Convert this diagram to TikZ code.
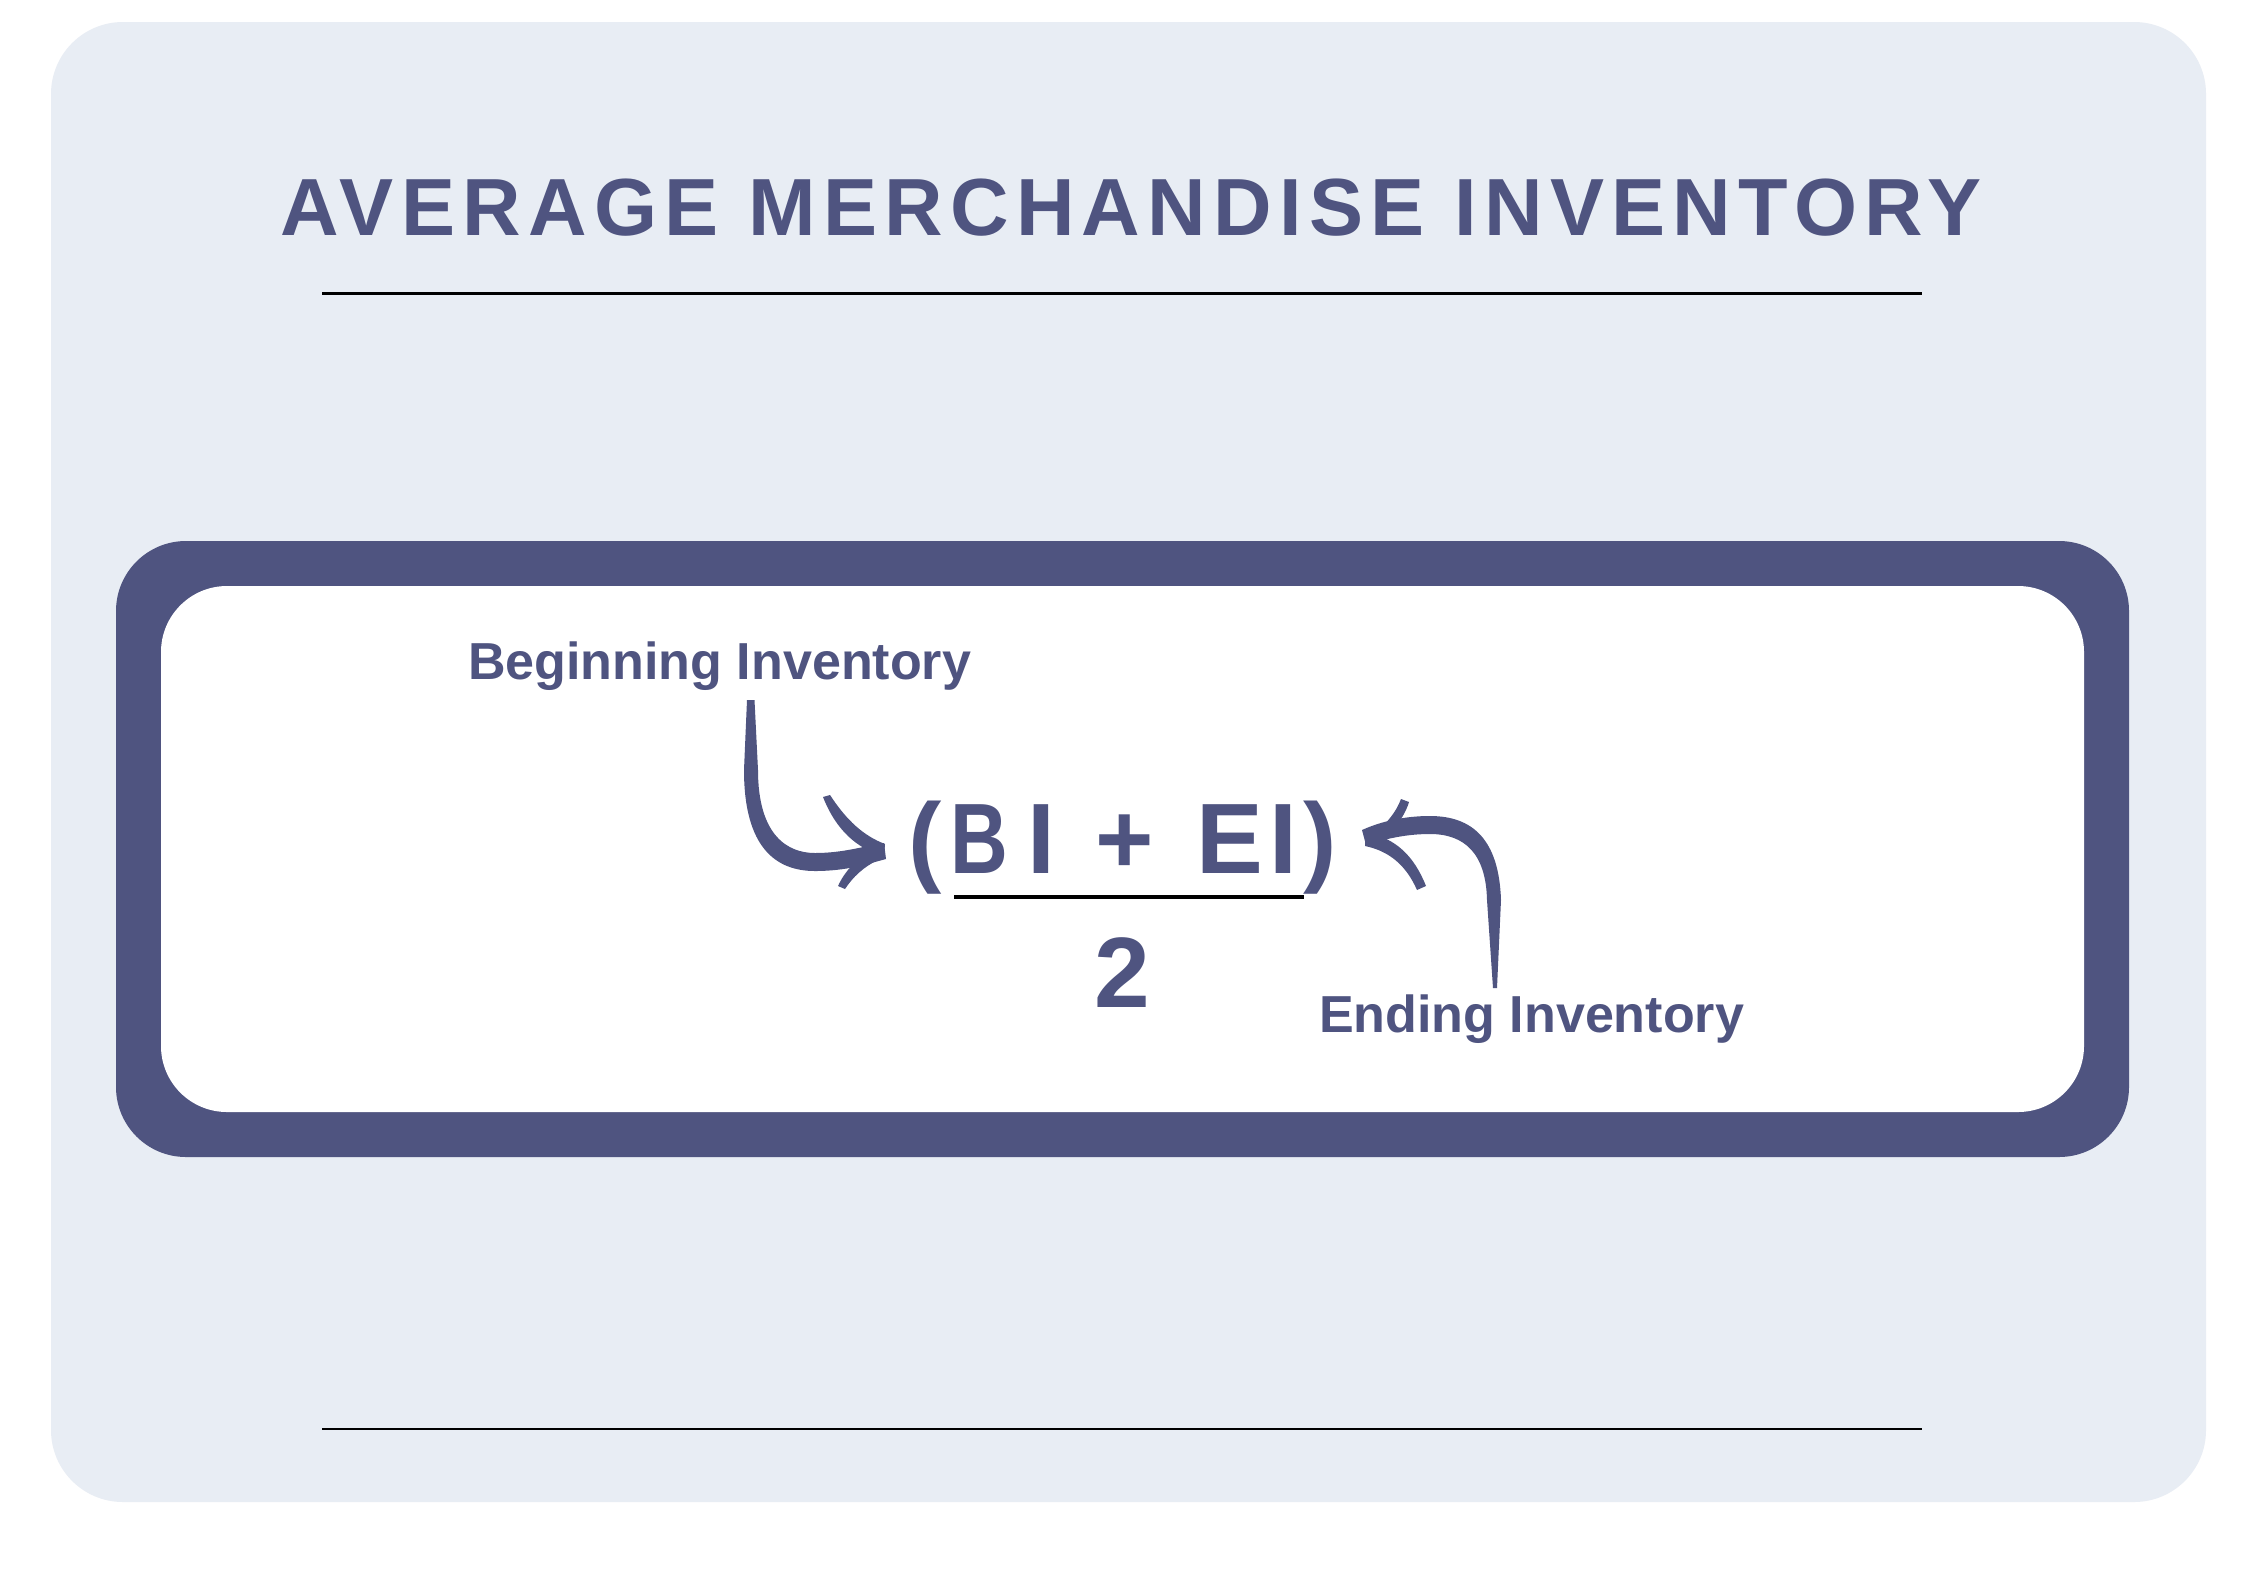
\documentclass[tikz,border=0pt]{standalone}
\usepackage{fontspec}
\setmainfont{Liberation Sans}
\definecolor{inkc}{HTML}{4F5480}
\definecolor{paperc}{HTML}{E8EDF4}
\newdimen\px \px=0.01cm
\tikzset{
  headline/.style={inner sep=0, outer sep=0, text=inkc,
    font={\fontsize{23.05pt}{27pt}\selectfont\bfseries\addfontfeatures{LetterSpace=9.0}}},
  formtext/.style={inner sep=0, outer sep=0, text=inkc,
    font={\fontsize{28.45pt}{32pt}\selectfont\bfseries}},
  subtext/.style={inner sep=0, outer sep=0, text=inkc,
    font={\fontsize{14.8pt}{17pt}\selectfont\bfseries}},
  rulestyle/.style={black, line width=2.8\px},
  fracline/.style={black, line width=3.3\px},
  brush/.style={fill=inkc, draw=none},
}
\begin{document}
\begin{tikzpicture}[x=0.01cm, y=-0.01cm]
\useasboundingbox (0,0) rectangle (2245,1587);
\fill[white] (0,0) rectangle (2245,1587);
% background card
\fill[paperc, rounded corners=72\px] (51,22) rectangle (2206,1502);
% title
\node[headline, anchor=base west] (title) at (280,235) {AVERAGE MERCHANDISE INVENTORY};
\coordinate (r1a) at (322,293.5);
\coordinate (r1b) at (1922,293.5);
\coordinate (r2a) at (322,1429);
\coordinate (r2b) at (1922,1429);
\draw[rulestyle] (r1a) -- (r1b);
\draw[rulestyle] (r2a) -- (r2b);
% frame
\fill[inkc, rounded corners=70\px] (116,541) rectangle (2129,1157);
\fill[white, rounded corners=66\px] (161,586) rectangle (2084,1112);
% formula
\node[formtext, anchor=base] (lp) at (925,873) {(};
\node[formtext, anchor=base west] (bi) at (950.5,873) {\scalebox{0.8}[1]{B}\kern19\px I};
\node[formtext, anchor=base] (plus) at (1125,873) {+};
\node[formtext, anchor=base west] (ei) at (1196,873) {E\kern6.6\px I};
\node[formtext, anchor=base] (rp) at (1320,873) {)};
\coordinate (fa) at (954,897);
\coordinate (fb) at (1304,897);
\draw[fracline] (fa) -- (fb);
\node[formtext, anchor=base] (two) at (1122,1007) {2};
% labels
\node[subtext, anchor=base west] (beg) at (468,679) {Beginning Inventory};
\node[subtext, anchor=base west] (endl) at (1319,1032) {Ending Inventory};
% beginning arrow (brush stroke)
\fill[brush] (747,700) -- (744,770) .. controls (744,849) and (777,871) .. (815,871)
  .. controls (847,871) and (867,864) .. (886,859) -- (884,843)
  .. controls (864,846) and (844,853) .. (815,853)
  .. controls (788,853) and (758,836) .. (758,770) -- (754.5,700) -- cycle;
\fill[brush] (823,797) .. controls (836,830) and (857,849) .. (884,856) -- (885,844)
  .. controls (864,836) and (847,821) .. (830,795) -- cycle;
\fill[brush] (838,886) .. controls (845,871) and (855,860) .. (873,851) -- (880,859)
  .. controls (863,867) and (853,877) .. (845,889) -- cycle;
% ending arrow (brush stroke)
\fill[brush] (1497,988) -- (1501,900) .. controls (1499,840) and (1473,816) .. (1430,816)
  .. controls (1405,816) and (1382,821) .. (1362,830) -- (1366,845)
  .. controls (1388,838) and (1408,834) .. (1430,834)
  .. controls (1465,834) and (1486,854) .. (1487,900) -- (1493,988) -- cycle;
\fill[brush] (1401,799) .. controls (1396,812) and (1388,822) .. (1375,833) -- (1390,833)
  .. controls (1400,822) and (1406,812) .. (1409,802) -- cycle;
\fill[brush] (1365,846) .. controls (1389,851) and (1406,865) .. (1417,890) -- (1426,886)
  .. controls (1414,856) and (1396,838) .. (1365,832) -- cycle;
\end{tikzpicture}
\end{document}
